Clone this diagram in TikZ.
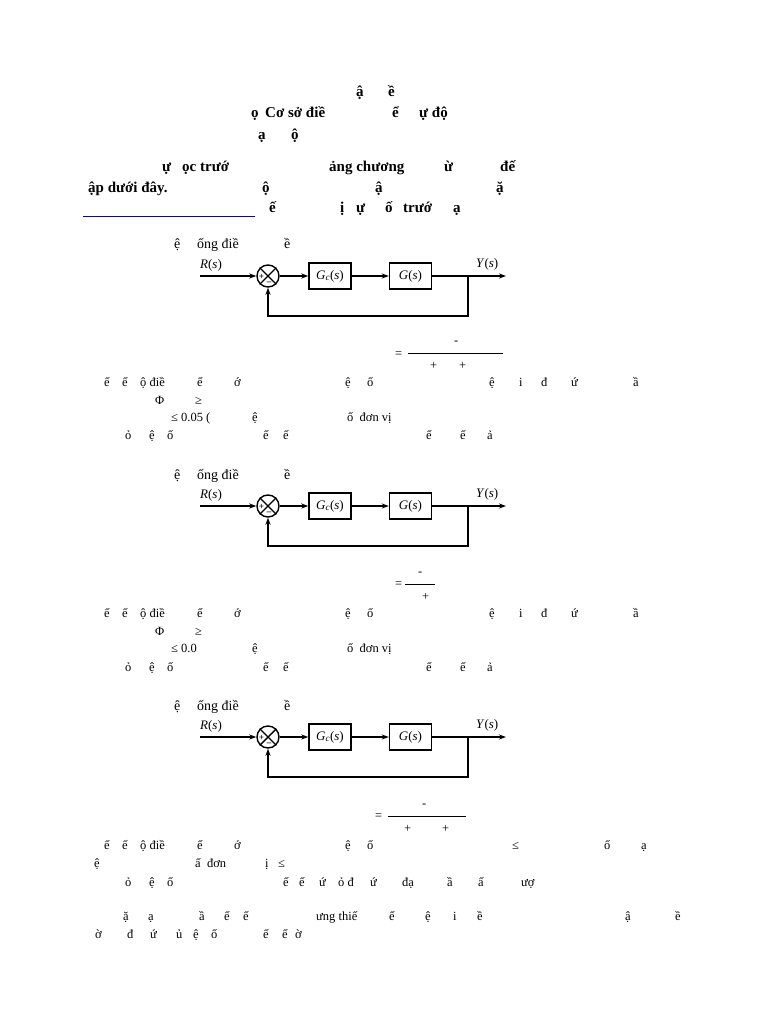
\documentclass[tikz,border=0pt]{standalone}
\usepackage{fontspec}
\setmainfont{Liberation Serif}
\usetikzlibrary{arrows.meta}
\newcommand\tx[3]{\node[anchor=base west,inner sep=0pt] at (#1,#2) {#3};}
\newcommand\bt[3]{\node[anchor=base west,inner sep=0pt,font=\fontsize{15}{17}\selectfont\bfseries] at (#1,#2) {#3};}
\newcommand\hdtx[3]{\node[anchor=base west,inner sep=0pt,font=\fontsize{14}{16}\selectfont] at (#1,#2) {#3};}
\tikzset{blk/.style={draw,line width=1.4pt,minimum width=42pt,minimum height=26pt,inner sep=0pt,font=\fontsize{13}{15}\selectfont},
 sig/.style={line width=1.4pt,-{Stealth[length=7pt,width=5pt]}},
 ln/.style={line width=1.4pt},
 lab/.style={font=\fontsize{13}{15}\selectfont,inner sep=0pt}}
\newcommand\loopdiag[2]{%
 \begin{scope}[shift={(0,#1)}]
 \node[draw,circle,line width=1.4pt,minimum size=22pt,inner sep=0pt] (s#2) at (268,0) {};
 \draw[ln] (s#2.north west)--(s#2.south east) (s#2.north east)--(s#2.south west);
 \node[font=\fontsize{9}{9}\selectfont\bfseries,inner sep=0pt] at (261.5,1) {+};
 \node[font=\fontsize{9}{9}\selectfont\bfseries,inner sep=0pt] at (269,7) {–};
 \node[blk] (gc#2) at (330,0) {\textit{G\textsubscript{c}}(\textit{s})};
 \node[blk] (g#2) at (410.5,0) {\textit{G}(\textit{s})};
 \coordinate (in#2) at (200,0);
 \coordinate (out#2) at (506,0);
 \coordinate (br#2) at (468,0);
 \coordinate (fb#2) at (468,40);
 \coordinate (fc#2) at (268,40);
 \draw[sig] (in#2)--(s#2);
 \draw[sig] (s#2)--(gc#2);
 \draw[sig] (gc#2)--(g#2);
 \draw[sig] (g#2)--(out#2);
 \draw[sig] (br#2)--(fb#2)--(fc#2)--(s#2);
 \node[lab,anchor=base west] (r#2) at (200,-8) {\textit{R}(\textit{s})};
 \node[lab,anchor=base west] (y#2) at (476,-9) {\textit{Y}(\textit{s})};
 \end{scope}}
\begin{document}
\begin{tikzpicture}[x=1pt,y=-1pt,font=\fontsize{12.5}{14}\selectfont]
\fill[white] (0,0) rectangle (768,1024);
\useasboundingbox (0,0) rectangle (768,1024);
% title
\bt{356}{97}{ậ}\bt{388}{97}{ề}
\bt{251}{118}{ọ}\bt{265}{118}{Cơ sở điề}\bt{392}{118}{ể}\bt{419}{118}{ự độ}
\bt{258}{140}{ạ}\bt{291}{140}{ộ}
\bt{162}{172}{ự}\bt{182}{172}{ọc trướ}\bt{329}{172}{ảng chương}\bt{444}{172}{ừ}\bt{500}{172}{đế}
\bt{88}{193}{ập dưới đây.}\bt{262}{193}{ộ}\bt{375}{193}{ậ}\bt{496}{193}{ặ}
\draw[blue!80!black,line width=0.8pt] (83,216)--(255,216);
\bt{269}{213}{ế}\bt{340}{213}{ị}\bt{356}{213}{ự}\bt{385}{213}{ố}\bt{403}{213}{trướ}\bt{453}{213}{ạ}
% section 1
\hdtx{174}{248}{ệ}\hdtx{197}{248}{ống điề}\hdtx{284}{248}{ề}
\loopdiag{276}{a}
\tx{395}{357}{=}\draw[line width=0.7pt] (408,353)--(503,353);
\tx{454}{344}{-}\tx{430}{369}{+}\tx{459}{369}{+}
\newcommand\rowA[1]{\tx{104}{#1}{ế}\tx{122}{#1}{ế}\tx{140}{#1}{ộ điề}\tx{197}{#1}{ể}\tx{234}{#1}{ớ}\tx{345}{#1}{ệ}\tx{367}{#1}{ố}\tx{489}{#1}{ệ}\tx{519}{#1}{i}\tx{541}{#1}{đ}\tx{571}{#1}{ứ}\tx{633}{#1}{ầ}}
\newcommand\rowB[1]{\tx{155}{#1}{Φ}\tx{195}{#1}{≥}}
\newcommand\rowC[1]{\tx{125}{#1}{ỏ}\tx{149}{#1}{ệ}\tx{167}{#1}{ố}\tx{263}{#1}{ế}\tx{283}{#1}{ế}\tx{426}{#1}{ể}\tx{460}{#1}{ế}\tx{487}{#1}{ả}}
\rowA{386}\rowB{404}
\tx{171}{421}{≤ 0.05 (}\tx{252}{421}{ệ}\tx{347}{421}{ố\ \ đơn vị}
\rowC{439}
% section 2
\hdtx{174}{479}{ệ}\hdtx{197}{479}{ống điề}\hdtx{284}{479}{ề}
\loopdiag{506}{b}
\tx{395}{587}{=}\draw[line width=0.7pt] (405,584)--(435,584);
\tx{418}{575}{-}\tx{422}{600}{+}
\rowA{617}\rowB{635}
\tx{171}{652}{≤ 0.0}\tx{252}{652}{ệ}\tx{347}{652}{ố\ \ đơn vị}
\rowC{671}
% section 3
\hdtx{174}{710}{ệ}\hdtx{197}{710}{ống điề}\hdtx{284}{710}{ề}
\loopdiag{737}{c}
\tx{375}{819}{=}\draw[line width=0.7pt] (388,816)--(466,816);
\tx{422}{807}{-}\tx{404}{832}{+}\tx{442}{832}{+}
\tx{104}{849}{ế}\tx{122}{849}{ế}\tx{140}{849}{ộ điề}\tx{197}{849}{ể}\tx{234}{849}{ớ}\tx{345}{849}{ệ}\tx{367}{849}{ố}\tx{512}{849}{≤}\tx{604}{849}{ố}\tx{641}{849}{ạ}
\tx{94}{867}{ệ}\tx{195}{867}{ấ\ \ đơn}\tx{265}{867}{ị}\tx{278}{867}{≤}
\tx{125}{886}{ỏ}\tx{149}{886}{ệ}\tx{167}{886}{ố}\tx{283}{886}{ế}\tx{299}{886}{ế}\tx{319}{886}{ứ}\tx{338}{886}{ỏ đ}\tx{370}{886}{ứ}\tx{402}{886}{đạ}\tx{447}{886}{ầ}\tx{478}{886}{ấ}\tx{521}{886}{ượ}
\tx{123}{920}{ặ}\tx{148}{920}{ạ}\tx{199}{920}{ầ}\tx{224}{920}{ế}\tx{243}{920}{ế}\tx{316}{920}{ưng thiế}\tx{389}{920}{ế}\tx{425}{920}{ệ}\tx{453}{920}{i}\tx{477}{920}{ề}\tx{625}{920}{ậ}\tx{675}{920}{ề}
\tx{95}{938}{ờ}\tx{127}{938}{đ}\tx{150}{938}{ứ}\tx{176}{938}{ủ}\tx{193}{938}{ệ}\tx{211}{938}{ố}\tx{263}{938}{ế}\tx{282}{938}{ế}\tx{295}{938}{ờ}
\end{tikzpicture}
\end{document}
